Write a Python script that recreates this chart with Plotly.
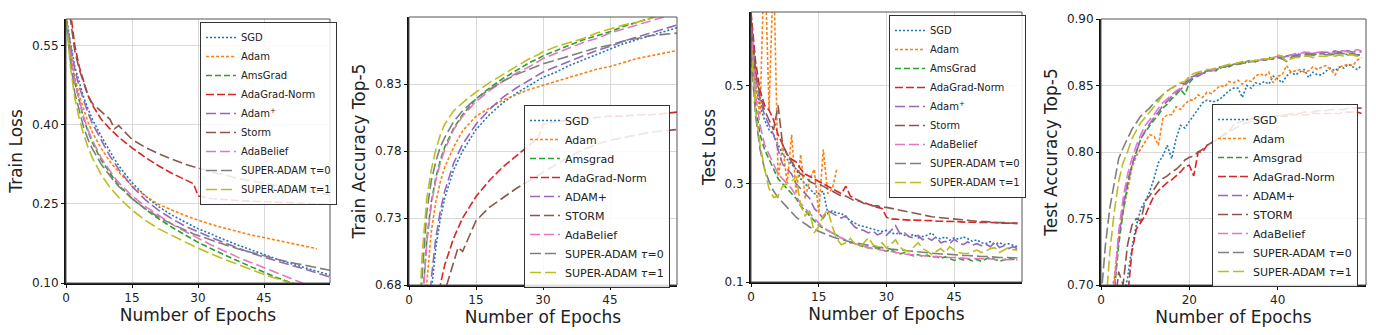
import plotly.graph_objects as go

# ---------------- data ----------------
NAMES_A = ["SGD", "Adam", "AmsGrad", "AdaGrad-Norm", "Adam<sup>+</sup>", "Storm", "AdaBelief",
           "SUPER-ADAM τ=0", "SUPER-ADAM τ=1"]
NAMES_B = ["SGD", "Adam", "Amsgrad", "AdaGrad-Norm", "ADAM+", "STORM", "AdaBelief",
           "SUPER-ADAM <i>τ</i>=0", "SUPER-ADAM <i>τ</i>=1"]

# Panel 1: train loss (sampled epochs)
EP1 = [0, 1, 2, 3, 4, 5, 6, 8, 10, 11, 12, 15, 18, 21, 24, 27, 29, 30, 33, 36, 39, 42, 45, 48, 51, 54, 57, 60]
tl_sgd = [0.61, 0.555, 0.51, 0.48, 0.452, 0.43, 0.41, 0.378, 0.348, 0.335, 0.322, 0.29, 0.265, 0.245, 0.229, 0.215, 0.207, 0.203, 0.192, 0.182, 0.172, 0.163, 0.153, 0.145, 0.137, 0.13, 0.122, 0.115]
tl_adam = [0.60, 0.54, 0.49, 0.455, 0.428, 0.405, 0.385, 0.355, 0.33, 0.32, 0.31, 0.284, 0.265, 0.249, 0.238, 0.228, 0.222, 0.219, 0.211, 0.204, 0.197, 0.191, 0.186, 0.181, 0.176, 0.171, 0.165, None]
tl_ams = [0.60, 0.53, 0.48, 0.443, 0.412, 0.387, 0.366, 0.333, 0.307, 0.296, 0.285, 0.26, 0.24, 0.222, 0.206, 0.191, 0.182, 0.177, 0.165, 0.153, 0.142, 0.131, 0.12, 0.11, 0.101, 0.094, 0.088, 0.083]
tl_agn = [0.68, 0.61, 0.55, 0.51, 0.48, 0.455, 0.437, 0.41, 0.392, 0.384, 0.376, 0.356, 0.338, 0.322, 0.308, 0.296, 0.288, 0.265, 0.26, 0.258, 0.256, 0.255, 0.254, 0.253, 0.252, 0.251, 0.25, 0.249]
tl_adamp = [0.60, 0.55, 0.505, 0.472, 0.445, 0.422, 0.402, 0.37, 0.34, 0.328, 0.315, 0.283, 0.258, 0.238, 0.222, 0.208, 0.2, 0.197, 0.186, 0.176, 0.166, 0.157, 0.149, 0.141, 0.134, 0.127, 0.119, 0.111]
tl_storm = [0.66, 0.60, 0.54, 0.505, 0.478, 0.455, 0.44, 0.425, 0.41, 0.392, 0.398, 0.372, 0.357, 0.345, 0.335, 0.325, 0.32, 0.318, 0.31, 0.305, 0.298, 0.294, 0.289, 0.284, 0.279, 0.275, 0.271, 0.267]
tl_belief = [0.60, 0.53, 0.48, 0.445, 0.415, 0.39, 0.37, 0.337, 0.312, 0.30, 0.29, 0.265, 0.245, 0.228, 0.212, 0.198, 0.19, 0.185, 0.172, 0.16, 0.149, 0.139, 0.129, 0.118, 0.108, 0.099, 0.092, 0.086]
tl_sa0 = [0.61, 0.52, 0.46, 0.425, 0.395, 0.372, 0.354, 0.325, 0.302, 0.292, 0.283, 0.26, 0.241, 0.225, 0.212, 0.2, 0.193, 0.19, 0.181, 0.173, 0.165, 0.158, 0.151, 0.145, 0.139, 0.134, 0.129, 0.124]
tl_sa1 = [0.60, 0.51, 0.45, 0.412, 0.382, 0.357, 0.337, 0.305, 0.281, 0.271, 0.262, 0.238, 0.219, 0.203, 0.19, 0.178, 0.17, 0.166, 0.155, 0.145, 0.135, 0.125, 0.116, 0.108, 0.1, 0.094, 0.089, 0.085]

# Panel 2: train accuracy top-5 (sampled epochs)
EP2 = [0, 1, 2, 3, 4, 5, 6, 7, 8, 10, 11, 12, 15, 18, 21, 24, 27, 29, 30, 33, 36, 39, 42, 45, 48, 51, 54, 57, 60]
ta_sgd = [0.3, 0.4, 0.49, 0.57, 0.62, 0.675, 0.708, 0.729, 0.745, 0.766, 0.773, 0.78, 0.796, 0.807, 0.816, 0.823, 0.829, 0.833, 0.835, 0.839, 0.844, 0.848, 0.852, 0.856, 0.86, 0.863, 0.866, 0.869, 0.872]
ta_adam = [0.35, 0.45, 0.55, 0.64, 0.682, 0.72, 0.742, 0.757, 0.768, 0.783, 0.789, 0.795, 0.806, 0.812, 0.818, 0.822, 0.826, 0.828, 0.829, 0.832, 0.835, 0.838, 0.841, 0.843, 0.846, 0.849, 0.851, 0.853, 0.855]
ta_ams = [0.42, 0.52, 0.60, 0.665, 0.715, 0.742, 0.76, 0.773, 0.783, 0.797, 0.802, 0.807, 0.819, 0.827, 0.834, 0.84, 0.846, 0.849, 0.851, 0.855, 0.859, 0.863, 0.866, 0.869, 0.873, 0.876, 0.879, 0.882, 0.885]
ta_agn = [0.2, 0.3, 0.4, 0.48, 0.54, 0.59, 0.64, 0.68, 0.695, 0.715, 0.722, 0.73, 0.746, 0.758, 0.768, 0.776, 0.784, 0.79, 0.80, 0.802, 0.803, 0.804, 0.805, 0.806, 0.806, 0.807, 0.807, 0.808, 0.809]
ta_adamp = [0.3, 0.4, 0.5, 0.58, 0.64, 0.685, 0.715, 0.735, 0.75, 0.771, 0.778, 0.785, 0.80, 0.811, 0.82, 0.827, 0.833, 0.837, 0.839, 0.843, 0.847, 0.851, 0.855, 0.858, 0.862, 0.865, 0.868, 0.871, 0.874]
ta_storm = [0.2, 0.3, 0.38, 0.45, 0.52, 0.57, 0.61, 0.64, 0.675, 0.698, 0.708, 0.705, 0.728, 0.738, 0.745, 0.752, 0.758, 0.762, 0.764, 0.77, 0.776, 0.781, 0.785, 0.788, 0.79, 0.792, 0.794, 0.795, 0.796]
ta_belief = [0.42, 0.52, 0.60, 0.665, 0.712, 0.74, 0.758, 0.771, 0.781, 0.796, 0.801, 0.806, 0.817, 0.825, 0.832, 0.838, 0.843, 0.847, 0.849, 0.853, 0.857, 0.861, 0.864, 0.868, 0.871, 0.874, 0.877, 0.88, 0.883]
ta_sa0 = [0.45, 0.55, 0.63, 0.69, 0.735, 0.758, 0.772, 0.783, 0.79, 0.802, 0.806, 0.81, 0.819, 0.826, 0.832, 0.837, 0.841, 0.844, 0.845, 0.848, 0.851, 0.854, 0.857, 0.859, 0.862, 0.864, 0.866, 0.867, 0.868]
ta_sa1 = [0.45, 0.55, 0.64, 0.705, 0.745, 0.766, 0.781, 0.792, 0.80, 0.81, 0.813, 0.816, 0.824, 0.831, 0.837, 0.843, 0.849, 0.852, 0.854, 0.858, 0.861, 0.864, 0.868, 0.871, 0.874, 0.876, 0.879, 0.882, 0.885]

# Panel 3: test loss (every epoch)
EP3 = list(range(60))
vl_sgd = [0.62, 0.50, 0.46, 0.43, 0.41, 0.40, 0.38, 0.36, 0.35, 0.34,
          0.33, 0.31, 0.30, 0.29, 0.28, 0.28, 0.285, 0.24, 0.245, 0.24,
          0.24, 0.232, 0.225, 0.22, 0.215, 0.213, 0.21, 0.207, 0.205, 0.203,
          0.205, 0.20, 0.198, 0.20, 0.195, 0.193, 0.197, 0.19, 0.192, 0.195,
          0.20, 0.19, 0.188, 0.192, 0.185, 0.19, 0.187, 0.192, 0.188, 0.183,
          0.186, 0.18, 0.178, 0.182, 0.177, 0.18, 0.176, 0.178, 0.175, 0.172]
vl_adam = [0.60, 0.50, 0.44, 0.78, 0.45, 0.75, 0.31, 0.38, 0.30, 0.40,
           0.28, 0.36, 0.27, 0.31, 0.33, 0.24, 0.37, 0.28, 0.29, 0.33] + [None] * 40
vl_ams = [0.60, 0.46, 0.40, 0.37, 0.35, 0.33, 0.31, 0.30, 0.29, 0.28,
          0.27, 0.255, 0.245, 0.235, 0.225, 0.215, 0.21, 0.205, 0.20, 0.195,
          0.19, 0.185, 0.18, 0.18, 0.175, 0.172, 0.17, 0.168, 0.17, 0.165,
          0.163, 0.166, 0.16, 0.157, 0.16, 0.156, 0.153, 0.156, 0.152, 0.155,
          0.15, 0.152, 0.148, 0.151, 0.147, 0.144, 0.148, 0.145, 0.147, 0.143,
          0.146, 0.142, 0.147, 0.15, 0.146, 0.142, 0.145, 0.149, 0.146, 0.147]
vl_agn = [0.65, 0.55, 0.49, 0.46, 0.45, 0.43, 0.40, 0.38, 0.36, 0.35,
          0.345, 0.33, 0.32, 0.315, 0.31, 0.305, 0.30, 0.295, 0.29, 0.285,
          0.28, 0.295, 0.275, 0.27, 0.265, 0.262, 0.258, 0.255, 0.252, 0.25,
          0.232, 0.228, 0.228, 0.227, 0.227, 0.226, 0.226, 0.226, 0.225, 0.225,
          0.225, 0.224, 0.224, 0.224, 0.223, 0.223, 0.223, 0.222, 0.222, 0.222,
          0.222, 0.221, 0.221, 0.221, 0.221, 0.22, 0.22, 0.22, 0.22, 0.22]
vl_adamp = [0.63, 0.52, 0.47, 0.44, 0.42, 0.40, 0.37, 0.34, 0.33, 0.32,
            0.30, 0.29, 0.28, 0.27, 0.25, 0.24, 0.23, 0.245, 0.24, 0.235,
            0.23, 0.235, 0.222, 0.212, 0.207, 0.205, 0.20, 0.204, 0.196, 0.20,
            0.195, 0.205, 0.215, 0.198, 0.20, 0.192, 0.19, 0.195, 0.186, 0.19,
            0.185, 0.192, 0.18, 0.183, 0.178, 0.187, 0.18, 0.176, 0.182, 0.175,
            0.178, 0.174, 0.177, 0.172, 0.181, 0.17, 0.174, 0.168, 0.172, 0.168]
vl_storm = [0.64, 0.53, 0.48, 0.45, 0.43, 0.41, 0.46, 0.38, 0.36, 0.345,
            0.33, 0.32, 0.315, 0.305, 0.30, 0.30, 0.295, 0.29, 0.285, 0.28,
            0.275, 0.275, 0.27, 0.265, 0.265, 0.26, 0.26, 0.255, 0.255, 0.252,
            0.252, 0.25, 0.248, 0.246, 0.244, 0.242, 0.24, 0.238, 0.236, 0.235,
            0.233, 0.232, 0.231, 0.23, 0.229, 0.228, 0.227, 0.226, 0.225, 0.225,
            0.224, 0.223, 0.223, 0.222, 0.222, 0.221, 0.221, 0.22, 0.22, 0.219]
vl_belief = [0.62, 0.48, 0.42, 0.38, 0.36, 0.34, 0.32, 0.31, 0.30, 0.29,
             0.275, 0.26, 0.25, 0.24, 0.23, 0.22, 0.21, 0.205, 0.20, 0.195,
             0.19, 0.185, 0.18, 0.178, 0.175, 0.172, 0.17, 0.168, 0.166, 0.165,
             0.163, 0.162, 0.16, 0.158, 0.157, 0.156, 0.155, 0.155, 0.154, 0.153,
             0.152, 0.152, 0.151, 0.15, 0.15, 0.15, 0.149, 0.149, 0.148, 0.148,
             0.148, 0.147, 0.147, 0.147, 0.146, 0.146, 0.146, 0.145, 0.145, 0.145]
vl_sa0 = [0.56, 0.44, 0.37, 0.33, 0.305, 0.285, 0.272, 0.262, 0.252, 0.243,
          0.232, 0.225, 0.218, 0.212, 0.207, 0.203, 0.199, 0.195, 0.192, 0.189,
          0.186, 0.184, 0.182, 0.18, 0.178, 0.176, 0.174, 0.172, 0.171, 0.17,
          0.168, 0.167, 0.166, 0.165, 0.164, 0.163, 0.162, 0.161, 0.16, 0.16,
          0.159, 0.158, 0.157, 0.157, 0.156, 0.155, 0.155, 0.154, 0.154, 0.153,
          0.153, 0.152, 0.152, 0.151, 0.151, 0.15, 0.15, 0.15, 0.149, 0.149]
vl_sa1 = [0.58, 0.45, 0.38, 0.33, 0.29, 0.272, 0.275, 0.295, 0.30, 0.305,
          0.315, 0.255, 0.235, 0.245, 0.20, 0.213, 0.235, 0.247, 0.213, 0.188,
          0.176, 0.18, 0.189, 0.178, 0.172, 0.18, 0.19, 0.176, 0.172, 0.18,
          0.169, 0.178, 0.186, 0.17, 0.165, 0.162, 0.172, 0.18, 0.168, 0.163,
          0.156, 0.162, 0.168, 0.16, 0.172, 0.165, 0.16, 0.158, 0.158, 0.162,
          0.165, 0.16, 0.163, 0.168, 0.17, 0.16, 0.165, 0.17, 0.166, 0.165]

# Panel 4: test accuracy top-5 (every epoch)
EP4 = list(range(60))
va_sgd = [0.55, 0.60, 0.63, 0.65, 0.67, 0.69, 0.705, 0.728, 0.745, 0.757,
          0.763, 0.77, 0.78, 0.792, 0.797, 0.805, 0.795, 0.81, 0.82, 0.818,
          0.823, 0.828, 0.833, 0.837, 0.839, 0.838, 0.838, 0.84, 0.843, 0.846,
          0.848, 0.848, 0.841, 0.85, 0.848, 0.852, 0.851, 0.853, 0.851, 0.857,
          0.855, 0.852, 0.857, 0.86, 0.858, 0.86, 0.862, 0.856, 0.86, 0.858,
          0.858, 0.861, 0.863, 0.861, 0.864, 0.863, 0.866, 0.864, 0.862, 0.865]
va_adam = [0.60, 0.65, 0.69, 0.705, 0.735, 0.755, 0.772, 0.788, 0.797, 0.802,
           0.808, 0.813, 0.812, 0.805, 0.825, 0.828, 0.828, 0.834, 0.832, 0.836,
           0.839, 0.839, 0.843, 0.841, 0.845, 0.844, 0.847, 0.85, 0.849, 0.853,
           0.852, 0.854, 0.851, 0.854, 0.853, 0.857, 0.859, 0.857, 0.86, 0.852,
           0.857, 0.858, 0.865, 0.86, 0.861, 0.862, 0.86, 0.861, 0.864, 0.862,
           0.864, 0.865, 0.862, 0.858, 0.864, 0.865, 0.866, 0.865, 0.869, 0.871]
va_ams = [0.55, 0.62, 0.67, 0.695, 0.73, 0.755, 0.775, 0.79, 0.80, 0.81,
          0.815, 0.82, 0.824, 0.828, 0.833, 0.836, 0.84, 0.843, 0.847, 0.843,
          0.852, 0.856, 0.858, 0.859, 0.861, 0.862, 0.861, 0.863, 0.865, 0.864,
          0.866, 0.867, 0.866, 0.868, 0.869, 0.868, 0.87, 0.869, 0.871, 0.87,
          0.872, 0.871, 0.872, 0.873, 0.872, 0.874, 0.875, 0.874, 0.873, 0.874,
          0.875, 0.874, 0.873, 0.874, 0.875, 0.874, 0.873, 0.874, 0.873, 0.873]
va_agn = [0.50, 0.55, 0.60, 0.63, 0.65, 0.67, 0.69, 0.725, 0.742, 0.747,
          0.752, 0.76, 0.767, 0.771, 0.774, 0.777, 0.779, 0.782, 0.785, 0.789,
          0.79, 0.782, 0.80, 0.80, 0.805, 0.807, 0.809, 0.811, 0.814, 0.816,
          0.82, 0.822, 0.823, 0.824, 0.825, 0.825, 0.826, 0.826, 0.826, 0.827,
          0.827, 0.827, 0.827, 0.828, 0.828, 0.828, 0.828, 0.828, 0.829, 0.829,
          0.829, 0.829, 0.829, 0.829, 0.829, 0.83, 0.83, 0.83, 0.83, 0.829]
va_adamp = [0.55, 0.62, 0.67, 0.698, 0.735, 0.76, 0.778, 0.79, 0.80, 0.81,
            0.816, 0.821, 0.826, 0.83, 0.835, 0.838, 0.842, 0.845, 0.847, 0.85,
            0.854, 0.856, 0.857, 0.859, 0.86, 0.861, 0.862, 0.863, 0.864, 0.865,
            0.865, 0.866, 0.867, 0.867, 0.868, 0.868, 0.869, 0.869, 0.87, 0.87,
            0.871, 0.871, 0.872, 0.872, 0.873, 0.873, 0.874, 0.874, 0.874, 0.875,
            0.875, 0.875, 0.875, 0.876, 0.875, 0.876, 0.876, 0.875, 0.876, 0.875]
va_storm = [0.55, 0.60, 0.64, 0.68, 0.71, 0.70, 0.73, 0.745, 0.75, 0.748,
            0.763, 0.767, 0.772, 0.777, 0.78, 0.782, 0.785, 0.787, 0.79, 0.794,
            0.796, 0.797, 0.80, 0.802, 0.805, 0.807, 0.809, 0.811, 0.813, 0.815,
            0.817, 0.819, 0.821, 0.822, 0.823, 0.824, 0.825, 0.826, 0.826, 0.827,
            0.827, 0.828, 0.828, 0.829, 0.829, 0.829, 0.83, 0.83, 0.83, 0.831,
            0.831, 0.831, 0.832, 0.832, 0.832, 0.832, 0.833, 0.833, 0.833, 0.833]
va_belief = [0.56, 0.63, 0.68, 0.70, 0.74, 0.765, 0.783, 0.795, 0.805, 0.813,
             0.82, 0.824, 0.828, 0.833, 0.837, 0.84, 0.843, 0.846, 0.848, 0.852,
             0.856, 0.857, 0.858, 0.86, 0.861, 0.861, 0.862, 0.864, 0.864, 0.865,
             0.866, 0.866, 0.867, 0.868, 0.868, 0.869, 0.869, 0.87, 0.87, 0.871,
             0.872, 0.872, 0.871, 0.873, 0.874, 0.874, 0.875, 0.875, 0.874, 0.875,
             0.874, 0.875, 0.874, 0.875, 0.876, 0.876, 0.875, 0.876, 0.877, 0.876]
va_sa0 = [0.69, 0.73, 0.758, 0.778, 0.795, 0.803, 0.81, 0.817, 0.822, 0.827,
          0.83, 0.833, 0.837, 0.84, 0.843, 0.846, 0.848, 0.85, 0.852, 0.851,
          0.856, 0.857, 0.859, 0.86, 0.861, 0.862, 0.863, 0.864, 0.864, 0.865,
          0.866, 0.866, 0.867, 0.867, 0.868, 0.868, 0.869, 0.869, 0.87, 0.87,
          0.871, 0.87, 0.868, 0.871, 0.872, 0.872, 0.873, 0.873, 0.873, 0.873,
          0.874, 0.873, 0.874, 0.874, 0.874, 0.874, 0.874, 0.874, 0.873, 0.873]
va_sa1 = [0.62, 0.68, 0.725, 0.755, 0.778, 0.792, 0.80, 0.81, 0.816, 0.822,
          0.826, 0.83, 0.834, 0.838, 0.843, 0.846, 0.848, 0.85, 0.852, 0.853,
          0.857, 0.859, 0.86, 0.861, 0.862, 0.862, 0.863, 0.864, 0.865, 0.866,
          0.866, 0.867, 0.868, 0.867, 0.868, 0.869, 0.869, 0.87, 0.87, 0.871,
          0.873, 0.872, 0.868, 0.87, 0.871, 0.871, 0.872, 0.872, 0.871, 0.872,
          0.872, 0.872, 0.873, 0.872, 0.873, 0.872, 0.873, 0.873, 0.872, 0.873]

# ---------------- styles ----------------
COLORS = ["#1f77b4", "#ff7f0e", "#2ca02c", "#d62728", "#9467bd", "#8c564b", "#e377c2", "#7f7f7f", "#bcbd22"]
DASHES = ["2px,2px", "3px,2px", "6px,3px", "8px,3px", "10px,4px", "10px,4px", "10px,4px", "11px,4px", "11px,4px"]

W, H = 1376, 335
# pixel boxes (left, right, top, bottom)
BOXES = [(66, 330, 19, 283), (409, 677, 17, 285), (751, 1022, 12, 282), (1101, 1366, 19, 285)]

panels = [
    (EP1, [tl_sgd, tl_adam, tl_ams, tl_agn, tl_adamp, tl_storm, tl_belief, tl_sa0, tl_sa1], NAMES_A,
     "Train Loss", [0.10, 0.60], [0.10, 0.25, 0.40, 0.55], ".2f", [0, 15, 30, 45], (200, 22), 10),
    (EP2, [ta_sgd, ta_adam, ta_ams, ta_agn, ta_adamp, ta_storm, ta_belief, ta_sa0, ta_sa1], NAMES_B,
     "Train Accuracy Top-5", [0.68, 0.88], [0.68, 0.73, 0.78, 0.83], ".2f", [0, 15, 30, 45], (524, 105), 11),
    (EP3, [vl_sgd, vl_adam, vl_ams, vl_agn, vl_adamp, vl_storm, vl_belief, vl_sa0, vl_sa1], NAMES_A,
     "Test Loss", [0.10, 0.65], [0.1, 0.3, 0.5], ".1f", [0, 15, 30, 45], (889, 15), 10),
    (EP4, [va_sgd, va_adam, va_ams, va_agn, va_adamp, va_storm, va_belief, va_sa0, va_sa1], NAMES_B,
     "Test Accuracy Top-5", [0.70, 0.90], [0.70, 0.75, 0.80, 0.85, 0.90], ".2f", [0, 20, 40], (1212, 104), 11),
]

FONT = "DejaVu Sans"
fig = go.Figure()
layout = dict(width=W, height=H, margin=dict(l=0, r=0, t=0, b=0, autoexpand=False), paper_bgcolor="white",
              plot_bgcolor="white", font=dict(family=FONT, color="#222"), shapes=[])

for i, (ep, series, names, ytitle, yr, yt, yfmt, xt, lpos, lfs) in enumerate(panels):
    k = "" if i == 0 else str(i + 1)
    leg = "legend" + k
    for j, ys in enumerate(series):
        fig.add_trace(go.Scatter(x=ep, y=ys, mode="lines", name=names[j],
                                 line=dict(color=COLORS[j], width=1.6, dash=DASHES[j]),
                                 xaxis="x" + k, yaxis="y" + k, legend=leg, connectgaps=False))
    l, r, t, b = BOXES[i]
    layout["xaxis" + k] = dict(domain=[l / W, r / W], range=[0, 60], anchor="y" + k, automargin=False,
                               tickvals=xt, showgrid=True, gridcolor="#d9d9d9", gridwidth=1,
                               showline=True, linecolor="#111", linewidth=2, zeroline=False,
                               ticks="outside", ticklen=3, tickcolor="#111",
                               tickfont=dict(size=12, color="#222"),
                               title=dict(text="Number of Epochs", font=dict(size=17, color="#222"), standoff=3))
    layout["yaxis" + k] = dict(domain=[1 - b / H, 1 - t / H], range=yr, anchor="x" + k, automargin=False,
                               tickvals=yt, tickformat=yfmt, showgrid=True, gridcolor="#d9d9d9", gridwidth=1,
                               showline=True, linecolor="#111", linewidth=2, zeroline=False,
                               ticks="outside", ticklen=3, tickcolor="#111",
                               tickfont=dict(size=12, color="#222"),
                               title=dict(text=ytitle, font=dict(size=17, color="#222"), standoff=5))
    layout[leg] = dict(x=lpos[0] / W, y=1 - lpos[1] / H, xanchor="left", yanchor="top",
                       bgcolor="rgba(255,255,255,0.85)", bordercolor="#333", borderwidth=1,
                       font=dict(size=lfs, family=FONT, color="#222"), itemwidth=30,
                       tracegroupgap=0)
    layout["shapes"].append(dict(type="rect", xref="x" + k + " domain", yref="y" + k + " domain",
                                 x0=0, x1=1, y0=0, y1=1, line=dict(color="#555", width=1),
                                 fillcolor="rgba(0,0,0,0)", layer="above"))

fig.update_layout(**layout)
fig.write_html("out.html", config={"displayModeBar": False},
               post_script="document.body.style.margin='0';document.body.style.overflow='hidden';")
